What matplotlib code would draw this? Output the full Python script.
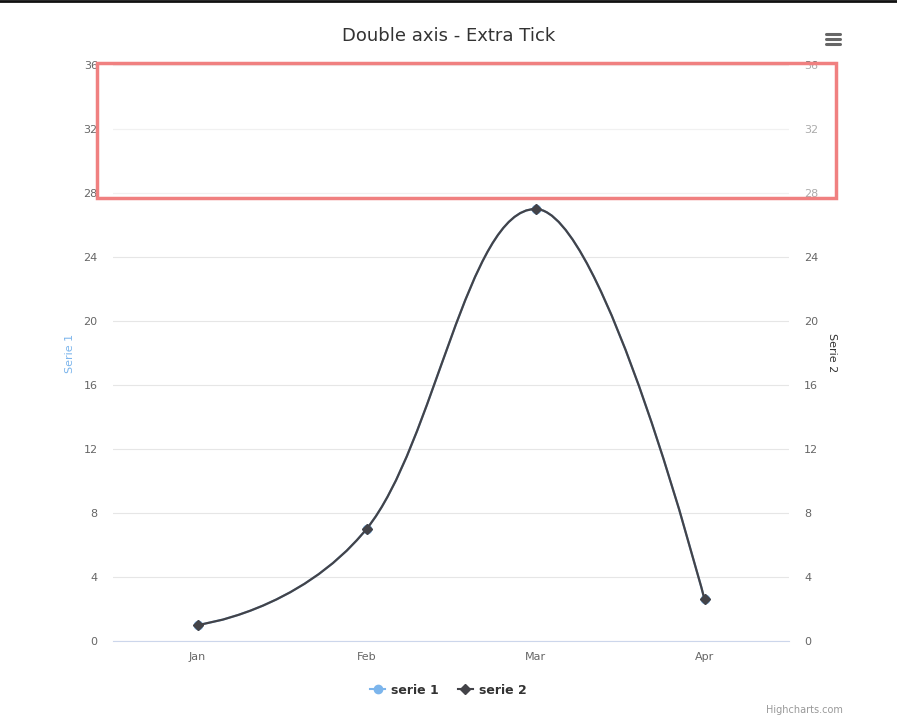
import numpy as np
import matplotlib
matplotlib.use("Agg")
import matplotlib.pyplot as plt
from matplotlib.path import Path
from matplotlib.patches import PathPatch, Rectangle
from matplotlib.lines import Line2D

months = ["Jan", "Feb", "Mar", "Apr"]
serie1 = [1, 7, 27, 2.6]
serie2 = [1, 7, 27, 2.6]
y_ticks = [0, 4, 8, 12, 16, 20, 24, 28, 32, 36]

W, H = 897, 726


def fx(px):
    return px / W


def fy(py):
    return 1 - py / H


def spline_path(xs, ys):
    # highcharts style spline, smoothing 1.5
    n = len(xs)
    lc = [None] * n
    rc = [None] * n
    for i in range(1, n - 1):
        x, y = xs[i], ys[i]
        px, py = xs[i - 1], ys[i - 1]
        nx, ny = xs[i + 1], ys[i + 1]
        lcx = (1.5 * x + px) / 2.5
        lcy = (1.5 * y + py) / 2.5
        rcx = (1.5 * x + nx) / 2.5
        rcy = (1.5 * y + ny) / 2.5
        if rcx != lcx:
            corr = (rcy - lcy) * (rcx - x) / (rcx - lcx) + y - rcy
            lcy += corr
            rcy += corr
        if lcy > py and lcy > y:
            lcy = max(py, y)
            rcy = 2 * y - lcy
        elif lcy < py and lcy < y:
            lcy = min(py, y)
            rcy = 2 * y - lcy
        if rcy > ny and rcy > y:
            rcy = max(ny, y)
            lcy = 2 * y - rcy
        elif rcy < ny and rcy < y:
            rcy = min(ny, y)
            lcy = 2 * y - rcy
        lc[i] = (lcx, lcy)
        rc[i] = (rcx, rcy)
    verts = [(xs[0], ys[0])]
    codes = [Path.MOVETO]
    for i in range(1, n):
        c1 = rc[i - 1] if rc[i - 1] else (xs[i - 1], ys[i - 1])
        c2 = lc[i] if lc[i] else (xs[i], ys[i])
        verts += [c1, c2, (xs[i], ys[i])]
        codes += [Path.CURVE4] * 3
    return Path(verts, codes)


fig = plt.figure(figsize=(W / 100, H / 100), dpi=100)
plt.rcParams["font.family"] = ["DejaVu Sans"]

ax = fig.add_axes([fx(113), fy(641), fx(789) - fx(113), (641 - 65) / H])
ax2 = ax.twinx()

x = np.arange(len(months))
for a in (ax, ax2):
    a.set_ylim(0, 36)
    a.set_xlim(-0.5, len(months) - 0.5)
    a.set_yticks(y_ticks)
    for s in a.spines.values():
        s.set_visible(False)
    a.tick_params(length=0, labelsize=8, labelcolor="#666666", pad=11)

ax.spines["bottom"].set_visible(True)
ax.spines["bottom"].set_color("#ccd6eb")
ax.set_xticks(x)
ax.set_xticklabels(months)
ax.tick_params(axis="x", pad=8)
ax.grid(axis="y", color="#e6e6e6", lw=0.8)
ax.set_axisbelow(True)

ax.add_patch(PathPatch(spline_path(x, serie1), fill=False, ec="#7cb5ec", lw=1.5))
ax.plot(x, serie1, "o", color="#7cb5ec", ms=6, zorder=3)
ax2.add_patch(PathPatch(spline_path(x, serie2), fill=False, ec="#434348", lw=1.6))
ax2.plot(x, serie2, "D", color="#434348", ms=5, zorder=3)

ax.set_ylabel("Serie 1", color="#7cb5ec", fontsize=8, labelpad=6)
ax2.set_ylabel("Serie 2", color="#333333", fontsize=8, rotation=270, labelpad=13)

fig.text(0.5, fy(36), "Double axis - Extra Tick", ha="center", va="center",
         fontsize=13, color="#333333")

# legend
handles = [Line2D([], [], color="#7cb5ec", marker="o", ms=6, lw=1.5),
           Line2D([], [], color="#434348", marker="D", ms=5, lw=1.5)]
fig.legend(handles, ["serie 1", "serie 2"], loc="center", ncol=2,
           bbox_to_anchor=(0.5, fy(690)), frameon=False, handlelength=1.2,
           columnspacing=1.5, handletextpad=0.5,
           prop={"size": 9, "weight": "bold"}, labelcolor="#333333")

fig.text(fx(843), fy(710), "Highcharts.com", ha="right", va="center",
         fontsize=7, color="#999999")

# menu icon
for yy in (34, 39, 44):
    fig.add_artist(Line2D([fx(826), fx(840)], [fy(yy), fy(yy)], color="#666666",
                          lw=2.2, solid_capstyle="round"))

# top border of the screenshot
fig.add_artist(Line2D([0, 1], [fy(1), fy(1)], color="#111111", lw=2))

# highlight box
fig.add_artist(Rectangle((fx(97), fy(198)), fx(836) - fx(97), (198 - 63) / H,
                         transform=fig.transFigure, fc=(1, 1, 1, 0.45),
                         ec="#f08080", lw=2.5, zorder=10))

fig.savefig("out.png", dpi=100)
